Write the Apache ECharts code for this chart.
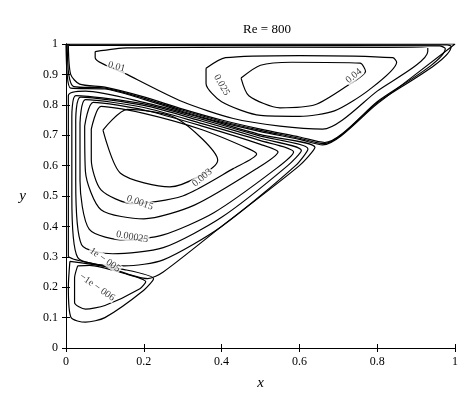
<!DOCTYPE html><html><head><meta charset="utf-8"><script src="https://cdn.jsdelivr.net/npm/echarts@6/dist/echarts.min.js"></script></head><body style="margin:0"><div id="c" style="width:474px;height:415px"></div><script>
const upperContours = [
 [[0.45,0.888],[0.5,0.93],[0.58,0.94],[0.756,0.937],[0.77,0.91],[0.72,0.86],[0.64,0.8],[0.55,0.79],[0.47,0.83],[0.45,0.888]],
 [[0.36,0.92],[0.41,0.955],[0.6,0.962],[0.84,0.955],[0.85,0.94],[0.78,0.85],[0.69,0.78],[0.6,0.762],[0.5,0.765],[0.4,0.81],[0.36,0.87],[0.36,0.92]],
 [[0.075,0.975],[0.157,0.987],[0.5,0.99],[0.93,0.987],[0.93,0.975],[0.8,0.845],[0.66,0.72],[0.55,0.73],[0.43,0.755],[0.3,0.81],[0.157,0.9],[0.075,0.955],[0.075,0.975]],
 [[0.006,0.995],[0.012,0.9],[0.035,0.868],[0.1,0.858],[0.2,0.826],[0.3,0.786],[0.4,0.75],[0.5,0.72],[0.6,0.694],[0.665,0.676],[0.8,0.81],[0.975,0.985],[0.96,0.994],[0.5,0.995],[0.006,0.995]],
 [[0.003,0.997],[0.007,0.9],[0.02,0.86],[0.1,0.855],[0.2,0.822],[0.3,0.782],[0.4,0.746],[0.5,0.716],[0.6,0.69],[0.662,0.672],[0.8,0.807],[0.99,0.992],[0.98,0.997],[0.5,0.997],[0.003,0.997]],
 [[0.0,1.0],[0.003,0.9],[0.012,0.855],[0.1,0.852],[0.2,0.818],[0.3,0.778],[0.4,0.742],[0.5,0.712],[0.6,0.686],[0.66,0.668],[0.8,0.803],[1.0,1.0],[0.0,1.0]]
];
const lowerContours = [
 [[0.095,0.717],[0.157,0.785],[0.285,0.755],[0.39,0.618],[0.267,0.53],[0.14,0.575],[0.095,0.717]],
 [[0.065,0.72],[0.09,0.795],[0.2,0.772],[0.35,0.718],[0.47,0.655],[0.49,0.638],[0.43,0.59],[0.3,0.5],[0.17,0.475],[0.09,0.52],[0.065,0.62],[0.065,0.72]],
 [[0.048,0.73],[0.07,0.808],[0.2,0.783],[0.35,0.73],[0.5,0.67],[0.545,0.645],[0.49,0.59],[0.33,0.47],[0.2,0.425],[0.09,0.455],[0.05,0.58],[0.048,0.73]],
 [[0.036,0.74],[0.05,0.817],[0.2,0.791],[0.35,0.738],[0.5,0.682],[0.585,0.645],[0.54,0.59],[0.38,0.445],[0.25,0.372],[0.15,0.355],[0.06,0.39],[0.036,0.55],[0.036,0.74]],
 [[0.025,0.75],[0.037,0.825],[0.2,0.798],[0.35,0.746],[0.5,0.69],[0.605,0.65],[0.57,0.6],[0.4,0.43],[0.25,0.33],[0.12,0.31],[0.04,0.34],[0.025,0.55],[0.025,0.75]],
 [[0.015,0.76],[0.025,0.83],[0.2,0.803],[0.35,0.752],[0.5,0.697],[0.622,0.655],[0.59,0.6],[0.4,0.4],[0.25,0.29],[0.15,0.27],[0.03,0.298],[0.015,0.5],[0.015,0.76]],
 [[0.006,0.3],[0.006,0.83],[0.05,0.845],[0.2,0.808],[0.35,0.757],[0.5,0.702],[0.64,0.66],[0.6,0.6],[0.4,0.4],[0.25,0.25],[0.21,0.228],[0.1,0.268],[0.02,0.292],[0.006,0.3]]
];
const eddyContours = [
 [[0.03,0.27],[0.06,0.272],[0.15,0.245],[0.205,0.218],[0.19,0.195],[0.1,0.14],[0.05,0.128],[0.022,0.15],[0.022,0.23],[0.03,0.27]],
 [[0.01,0.285],[0.15,0.258],[0.225,0.228],[0.2,0.19],[0.1,0.1],[0.05,0.085],[0.013,0.1],[0.006,0.2],[0.01,0.285]]
];
const labels = [
 {v:[0.13,0.925],t:'0.01',r:-15},{v:[0.4,0.865],t:'0.025',r:-60},{v:[0.74,0.895],t:'0.04',r:40},
 {v:[0.35,0.56],t:'0.003',r:40},{v:[0.19,0.478],t:'0.0015',r:-20},{v:[0.17,0.365],t:'0.00025',r:-10},
 {v:[0.1,0.29],t:'1e − 005',r:-35},{v:[0.08,0.2],t:'−1e − 006',r:-35}
];
const xTicks=[0,0.2,0.4,0.6,0.8,1], yTicks=[0,0.1,0.2,0.3,0.4,0.5,0.6,0.7,0.8,0.9,1];
const font='Liberation Serif';
const line=d=>({type:'line',data:d,smooth:0.25,symbol:'none',lineStyle:{color:'#000',width:1.2},silent:true});
const series=[...upperContours,...lowerContours,...eddyContours].map(line);
series.push({type:'scatter',symbolSize:0,data:labels.map(l=>({value:l.v,label:{show:true,formatter:l.t,rotate:l.r,position:'inside',fontFamily:font,fontSize:10,color:'#000',backgroundColor:'#fff',padding:[0,1]}})),z:5});
const ax=(pos,lab)=>({type:'value',min:0,max:1,interval:0.2,position:pos,axisLine:{show:true,lineStyle:{color:'#000'}},axisTick:{inside:true,length:4,lineStyle:{color:'#000'}},axisLabel:{show:lab,color:'#000',fontFamily:font,fontSize:12},splitLine:{show:false}});
const xa=[Object.assign(ax('bottom',true),{name:'x',nameLocation:'middle',nameGap:28,nameTextStyle:{fontFamily:font,fontStyle:'italic',fontSize:15,color:'#000'}}),ax('top',false)];
const ya=[Object.assign(ax('left',true),{interval:0.1,name:'y',nameLocation:'middle',nameRotate:0,nameGap:40,nameTextStyle:{fontFamily:font,fontStyle:'italic',fontSize:15,color:'#000'}}),Object.assign(ax('right',false),{interval:0.1})];
xa[0].axisLabel.formatter=v=>xTicks.includes(v)?String(v):'';
ya[0].axisLabel.formatter=v=>yTicks.includes(v)?String(v):'';
const ch=echarts.init(document.getElementById('c'),null,{renderer:'canvas'});
ch.setOption({animation:false,backgroundColor:'#fff',
 title:{text:'Re = 800',left:262,top:18,textAlign:'center',textStyle:{fontFamily:font,fontSize:13,fontWeight:'normal',color:'#000'}},
 grid:{left:66,right:19,top:44,bottom:67},xAxis:xa,yAxis:ya,series:series});
</script></body></html>
